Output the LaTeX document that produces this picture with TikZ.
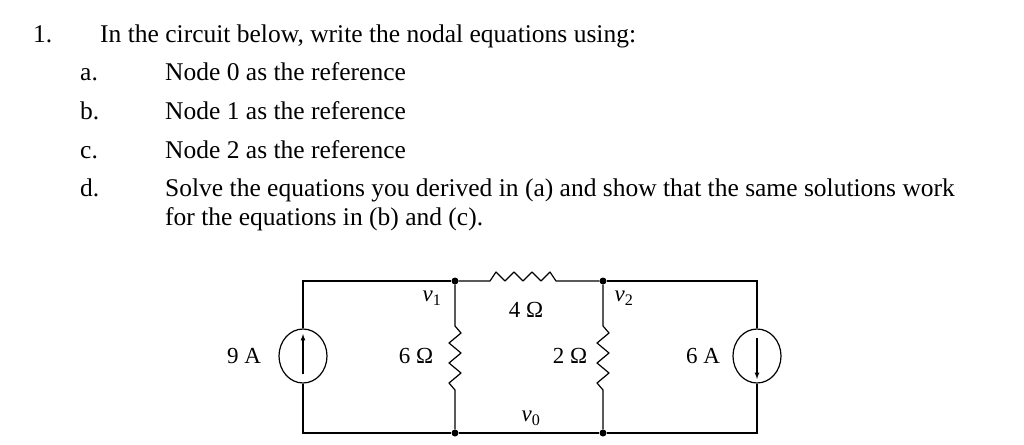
\documentclass[tikz,border=0pt]{standalone}
\usepackage{fontspec}
\setmainfont{Liberation Serif}
\usetikzlibrary{shapes.geometric}
\begin{document}
\begin{tikzpicture}[x=1pt,y=-1pt,
  txt/.style={anchor=base west,inner sep=0pt,font=\fontsize{25.5}{30}\selectfont},
  lbl/.style={inner sep=0pt,font=\fontsize{23}{28}\selectfont},
  wire/.style={line width=1.2pt},
  dot/.style={circle,fill,inner sep=0pt,minimum size=7pt},
  src/.style={ellipse,draw,line width=1.2pt,minimum width=48pt,minimum height=54pt}]
\useasboundingbox (0,0) rectangle (1024,444);
\node[txt] (n1) at (33,43) {1.};
\node[txt] (t0) at (100,43) {In the circuit below, write the nodal equations using:};
\node[txt] (la) at (80,81) {a.};
\node[txt] (ta) at (165,81) {Node 0 as the reference};
\node[txt] (lb) at (80,119) {b.};
\node[txt] (tb) at (165,119) {Node 1 as the reference};
\node[txt] (lc) at (80,158) {c.};
\node[txt] (tc) at (165,158) {Node 2 as the reference};
\node[txt] (ld) at (80,196) {d.};
\node[txt] (td) at (165,196) {Solve the equations you derived in (a) and show that the same solutions work};
\node[txt] (td2) at (165,225) {for the equations in (b) and (c).};
% nodes
\coordinate (TL) at (303,281); \coordinate (BL) at (303,433);
\node[dot] (A) at (455,281) {}; \node[dot] (B) at (603,281) {};
\node[dot] (C) at (455,433) {}; \node[dot] (D) at (603,433) {};
\coordinate (TR) at (757,281); \coordinate (BR) at (757,433);
\node[src] (S1) at (303,356) {}; \node[src] (S2) at (757,356) {};
\draw[wire] (S1.north) -- (TL) -- (A);
\draw[wire] (S1.south) -- (BL) -- (C) -- (D) -- (BR) -- (S2.south);
\draw[wire] (S2.north) -- (TR) -- (B);
% 4 ohm
\draw[wire,line join=round] (A) -- (490,281) -- (496,272) -- (505,281) -- (514,272) -- (523,281) -- (532,272) -- (541,281) -- (550,272) -- (556,281) -- (B);
% vertical resistors
\foreach \x/\n/\m in {455/A/C,603/B/D}{
\draw[wire,line join=round] (\n) -- (\x,326) -- (\x+6,333) -- (\x-6,343) -- (\x+6,353) -- (\x-6,363) -- (\x+6,373) -- (\x-6,383) -- (\x,390) -- (\x,396) -- (\m);}
% arrows
\draw[wire,-{latex}] (303,374) -- (303,334);
\draw[wire,-{latex}] (757,338) -- (757,379);
\node[lbl] (l9) at (244,356) {9 A};
\node[lbl] (l6) at (416,356) {6 Ω};
\node[lbl] (l4) at (526,310) {4 Ω};
\node[lbl] (l2) at (570,356) {2 Ω};
\node[lbl] (l6a) at (703,356) {6 A};
\node[lbl] (v1) at (432,298) {\textit{v}\textsubscript{1}};
\node[lbl] (v2) at (624,298) {\textit{v}\textsubscript{2}};
\node[lbl] (v0) at (531,418) {\textit{v}\textsubscript{0}};
\end{tikzpicture}
\end{document}
